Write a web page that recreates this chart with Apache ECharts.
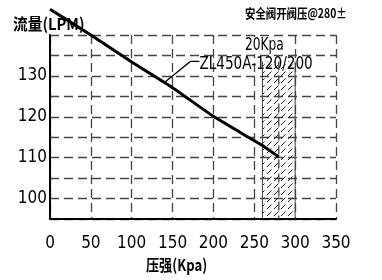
<!DOCTYPE html>
<html><head><meta charset="utf-8">
<script src="https://cdn.jsdelivr.net/npm/echarts@6/dist/echarts.min.js"></script>
<style>html,body{margin:0;padding:0;background:#fff}#c{width:382px;height:280px}</style>
</head><body><div id="c"></div>
<script>
const pressure = [0, 50, 100, 150, 200, 240, 260, 280];
const flow = [146.3, 140.0, 133.4, 127.1, 120.1, 115.3, 113.0, 110.2];
const xTicks = [0, 50, 100, 150, 200, 250, 300, 350];
const yTickLabels = [100, 110, 120, 130];
const reliefBand = [260, 300];
const reliefTop = 133.5;
const reliefCenter = 280;
const seriesName = 'ZL450A-120/200';
const noteLine1 = '安全阀开阀压@280±';
const noteLine2 = '20Kpa';
const xName = '压强(Kpa)';
const yName = '流量(LPM)';
const leaderAt = 140;

const NARROW = '"DejaVu Sans Condensed","Liberation Sans Narrow","Liberation Sans",sans-serif';
const CJK = '"Noto Sans CJK SC",sans-serif';

function hatch() {
  const c = document.createElement('canvas');
  c.width = 7; c.height = 7;
  const g = c.getContext('2d');
  g.strokeStyle = '#222'; g.lineWidth = 1;
  g.beginPath(); g.moveTo(1, 6); g.lineTo(5.5, 1.5); g.stroke();
  return c;
}

const chart = echarts.init(document.getElementById('c'), null, {renderer: 'canvas'});
const dash = {color: '#444', width: 1.3, type: [9, 5]};
chart.setOption({
  animation: false,
  grid: {left: 50, right: 46, top: 35, bottom: 61},
  xAxis: {
    type: 'value', min: 0, max: 350, interval: 50,
    axisLine: {show: true, lineStyle: {color: '#000', width: 2}},
    axisTick: {show: false},
    axisLabel: {margin: 16, color: '#000', fontSize: 17, fontFamily: NARROW,
      formatter: v => xTicks.includes(v) ? String(v) : ''},
    splitLine: {show: true, lineStyle: dash}
  },
  yAxis: {
    type: 'value', min: 95, max: 140, interval: 5,
    axisLine: {show: true, lineStyle: {color: '#000', width: 2}},
    axisTick: {show: false},
    axisLabel: {margin: 3, color: '#000', fontSize: 17, fontFamily: NARROW,
      formatter: v => yTickLabels.includes(v) ? String(v) : ''},
    splitLine: {show: true, lineStyle: dash}
  },
  series: [
    {
      type: 'custom',
      data: [[reliefBand[0], reliefBand[1], reliefTop, reliefCenter]],
      renderItem: (params, api) => {
        const p0 = api.coord([api.value(0), api.value(2)]);
        const p1 = api.coord([api.value(1), 95]);
        const pc = api.coord([api.value(3), 95]);
        const pt = api.coord([api.value(3), api.value(2)]);
        return {type: 'group', children: [
          {type: 'rect', shape: {x: p0[0], y: p0[1], width: p1[0] - p0[0], height: p1[1] - p0[1]},
           style: {fill: {image: hatch(), repeat: 'repeat'}, stroke: null}},
          {type: 'line', shape: {x1: p0[0], y1: p0[1], x2: p0[0], y2: p1[1]}, style: {stroke: '#444', lineWidth: 1}},
          {type: 'line', shape: {x1: p1[0], y1: p0[1], x2: p1[0], y2: p1[1]}, style: {stroke: '#444', lineWidth: 1}},
          {type: 'line', shape: {x1: pc[0], y1: pt[1], x2: pc[0], y2: pc[1]}, style: {stroke: '#444', lineWidth: 1.3, lineDash: [9, 5]}}
        ]};
      },
      z: 1
    },
    {
      name: seriesName, type: 'line', data: pressure.map((x, i) => [x, flow[i]]),
      smooth: 0.15, symbol: 'none', clip: false,
      lineStyle: {color: '#000', width: 3}, z: 5
    }
  ]
});

const a = chart.convertToPixel({seriesIndex: 1}, [leaderAt, 128.4]);
chart.setOption({
  graphic: [
    {type: 'polyline', shape: {points: [[a[0], a[1]], [a[0] + 26, a[1] - 21], [a[0] + 35, a[1] - 21]]},
     style: {stroke: '#000', lineWidth: 1.3, fill: null}},
    {type: 'text', x: a[0] + 35, y: a[1] - 26, scaleX: 0.89,
     style: {text: seriesName, font: '17px ' + NARROW, fill: '#000'}},
    {type: 'text', x: 245, y: 7, scaleX: 0.8,
     style: {text: noteLine1, font: 'bold 13px ' + CJK, fill: '#000'}},
    {type: 'text', x: 245, y: 37, scaleX: 0.8,
     style: {text: noteLine2, font: '17px ' + NARROW, fill: '#000', backgroundColor: '#fff'}},
    {type: 'text', x: 13, y: 16, scaleX: 0.92,
     style: {text: yName, font: 'bold 16px ' + CJK, fill: '#000'}},
    {type: 'text', x: 146, y: 257, scaleX: 0.82,
     style: {text: xName, font: 'bold 16px ' + CJK, fill: '#000'}}
  ]
});
</script></body></html>
